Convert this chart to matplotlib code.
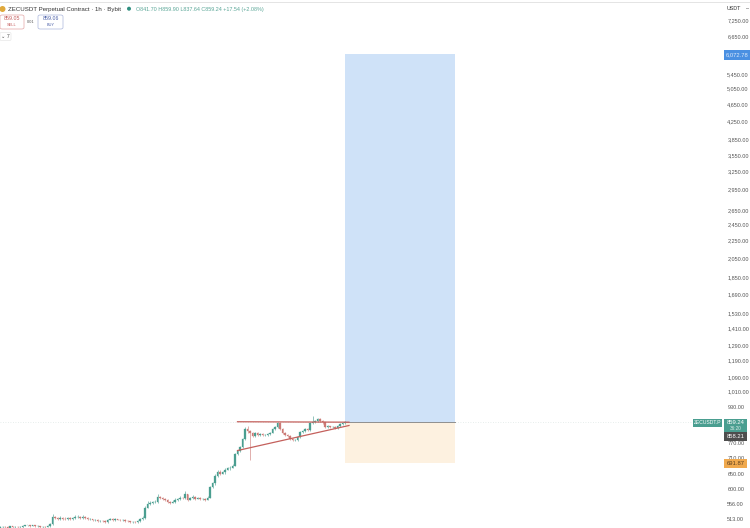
import matplotlib
matplotlib.use("Agg")
import matplotlib.pyplot as plt
from matplotlib.lines import Line2D
from matplotlib.patches import Rectangle, FancyBboxPatch, Ellipse

plt.rcParams['font.family'] = ['Liberation Sans', 'DejaVu Sans']

closes = [491,492,491,490,493,491,492,491,491,494,
          496,496,493,496,494,494,491,492,491,493,
          500,519,516,513,516,514,513,516,513,516,
          519,519,516,519,516,513,513,510,511,508,
          508,507,505,511,513,510,513,511,510,511,
          508,507,505,506,505,508,513,516,545,556,
          559,560,562,577,574,571,568,562,559,562,
          568,571,574,573,585,568,574,577,571,574,
          571,571,568,574,607,620,646,660,653,657,
          667,671,674,681,726,738,753,785,828,819,
          811,798,811,802,806,802,802,806,811,828,
          836,854,828,811,802,798,785,781,781,794,
          815,819,828,823,854,859,863,872,863,859,
          836,841,836,837,832,841,850,854,859.24]
highs = [494,494,493,493,495,494,494,493,493,496,
         498,498,496,498,497,496,495,494,494,496,
         503,527,522,519,520,518,518,519,518,519,
         523,524,522,523,522,518,516,514,513,513,
         511,510,509,514,516,515,516,514,513,514,
         512,510,508,508,508,510,515,520,549,563,
         565,565,567,585,581,577,574,571,564,566,
         572,575,579,578,596,587,578,582,579,578,
         576,575,574,579,611,626,651,666,664,662,
         671,676,680,686,730,742,757,790,838,840,
         822,814,816,814,812,808,806,811,816,833,
         842,860,858,830,813,804,800,788,786,798,
         820,825,832,832,858,887,870,876,876,866,
         860,846,842,842,842,846,854,858,864]
lows = [489,489,488,488,490,489,489,488,489,490,
        493,494,491,493,492,492,489,490,489,491,
        492,498,512,510,511,511,510,511,510,511,
        514,516,514,514,514,511,510,508,508,506,
        505,504,503,503,509,508,508,509,508,508,
        505,505,503,503,503,503,506,511,514,543,
        553,555,557,559,570,567,565,558,556,557,
        559,565,568,569,571,563,566,571,567,569,
        567,567,564,566,574,604,616,642,648,650,
        653,664,667,671,679,722,734,750,780,812,
        700,794,795,796,798,796,796,798,802,808,
        824,832,824,806,798,792,780,776,776,778,
        790,810,815,818,820,850,855,858,858,852,
        830,832,830,832,827,828,838,846,850]
opens = [490] + closes[:-1]

axis_prices = [7250,6650,5450,5050,4650,4250,3850,3550,3250,2950,2650,2450,2250,2050,
               1850,1690,1530,1410,1290,1190,1090,1010,930,770,710,650,600,556,513]

last_price = 859.24
entry = 858.21
target = 6072.78
stop = 691.87

teal = "#4a9e90"
red = "#cc7a76"
grey = "#555555"

fig = plt.figure(figsize=(7.5, 5.28), dpi=100)
ax = fig.add_axes([0, 0, 722/750, 1])
ax.set_yscale('log')
ax.set_xlim(0, 288.8)
ax.set_ylim(489, 8085)

for i in range(len(closes)):
    col = teal if closes[i] >= opens[i] else red
    ax.vlines(i, lows[i], highs[i], color=col, lw=0.6, alpha=0.7)
    ax.bar(i, abs(closes[i]-opens[i]), bottom=min(closes[i], opens[i]), width=0.7, color=col, lw=0.2, edgecolor=col)

# long position box
ax.add_patch(Rectangle((138, entry), 44, target-entry, color="#cfe2f8", lw=0, zorder=0))
ax.add_patch(Rectangle((138, stop), 44, entry-stop, color="#fdf1e0", lw=0, zorder=0))
ax.plot([138, 182], [entry, entry], color="#8f8f8f", lw=0.7)

ax.axhline(last_price, color="#dfe8e6", lw=0.6, ls=(0, (1, 2)), zorder=0)

# triangle
ax.plot([95, 139.6], [860, 858], color="#c4605c", lw=0.9)
ax.plot([95, 139.6], [738, 843], color="#c4605c", lw=0.9)

ax.yaxis.tick_right()
ax.set_yticks(axis_prices)
ax.set_yticklabels([f"{p:,.2f}" for p in axis_prices], fontsize=4.0, color=grey)
ax.minorticks_off()
ax.tick_params(axis='y', length=0, pad=3.8)
ax.set_xticks([])
for s in ax.spines.values():
    s.set_visible(False)

fig.add_artist(Line2D([0, 1], [1-1.5/528, 1-1.5/528], color="#e4e4e4", lw=0.7))


def px(x, y):
    return x/750, 1-y/528


def tag(x0, x1, y0, y1, col):
    fig.add_artist(Rectangle(px(x0, y1), (x1-x0)/750, (y1-y0)/528, color=col, lw=0, transform=fig.transFigure))


# header
fig.add_artist(Ellipse(px(2.5, 9), 6/750, 6/528, color="#e0a93c", lw=0, transform=fig.transFigure))
fig.text(*px(7.5, 9), "ZECUSDT Perpetual Contract · 1h · Bybit", fontsize=4.4, color="#333333", va='center')
fig.add_artist(Ellipse(px(129, 8.7), 4/750, 4/528, color="#2f8f80", lw=0, transform=fig.transFigure))
fig.text(*px(136, 9), "O841.70 H859.90 L837.64 C859.24 +17.54 (+2.08%)", fontsize=3.85, color="#5aa697", va='center')

for x0, x1, col, v, lab, tcol in [(0, 24, "#e3a6a6", "859.05", "SELL", "#c45a5a"),
                                  (38, 63, "#aab6dc", "859.06", "BUY", "#4a5fa8")]:
    fig.add_artist(FancyBboxPatch(px(x0, 29), (x1-x0)/750, 14/528, boxstyle="round,pad=0,rounding_size=0.003",
                                  fc="white", ec=col, lw=0.5, transform=fig.transFigure))
    fig.text(*px((x0+x1)/2, 19), v, fontsize=3.8, color=tcol, ha='center', va='center')
    fig.text(*px((x0+x1)/2, 25), lab, fontsize=2.8, color=tcol, ha='center', va='center')
fig.text(*px(30.5, 22), "0.01", fontsize=2.9, color=grey, ha='center', va='center')
fig.add_artist(FancyBboxPatch(px(0, 40.5), 11/750, 8/528, boxstyle="round,pad=0,rounding_size=0.002",
                              fc="white", ec="#e2e2e2", lw=0.4, transform=fig.transFigure))
fig.text(*px(5, 36.5), "⌄ 7", fontsize=3.8, color=grey, ha='center', va='center')

fig.text(*px(727, 9), "USDT", fontsize=3.9, color="#333333", va='center')
fig.text(*px(746, 9), "–", fontsize=3.9, color="#333333", va='center')

# price tags on the scale
tag(693, 722, 419, 426.5, "#4a9e90")
fig.text(*px(707.5, 422.8), "ZECUSDT.P", fontsize=3.6, color="white", ha='center', va='center')
tag(724, 747, 419, 432, "#4a9e90")
fig.text(*px(735.5, 422.5), f"{last_price:.2f}", fontsize=4.2, color="white", ha='center', va='center')
fig.text(*px(735.5, 428.5), "36:20", fontsize=3.4, color="#d6ece7", ha='center', va='center')
tag(724, 747, 432, 441, "#4d4d4d")
fig.text(*px(735.5, 436.6), f"{entry:.2f}", fontsize=4.2, color="white", ha='center', va='center')
tag(724, 747, 459, 467.5, "#f0a94e")
fig.text(*px(735.5, 463.4), f"{stop:.2f}", fontsize=4.2, color="#5c4020", ha='center', va='center')
tag(724, 750, 50, 60, "#4a90e2")
fig.text(*px(737, 55), f"{target:,.2f}", fontsize=4.2, color="#dbe9fa", ha='center', va='center')

fig.savefig("out.png", dpi=100)
